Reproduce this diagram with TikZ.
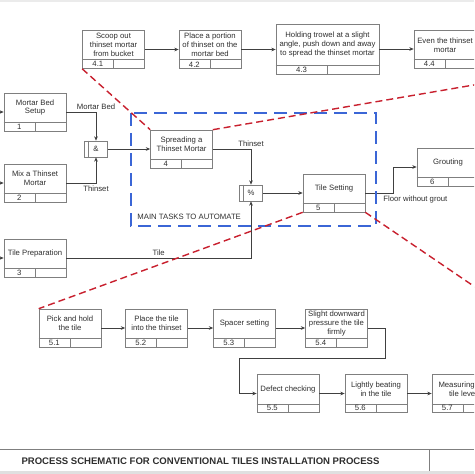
\documentclass[tikz,border=0pt]{standalone}
\usepackage{fontspec}
\setmainfont{Liberation Sans}
\usepackage{tikz}
\usetikzlibrary{arrows.meta,calc}
\definecolor{boxgray}{HTML}{7F7F7F}
\definecolor{textgray}{HTML}{2E2E2E}
\definecolor{zoomred}{HTML}{C8202E}
\definecolor{autoblue}{HTML}{3B66D6}
\tikzset{
  uob/.style={draw=boxgray, line width=0.9pt, minimum width=31mm, minimum height=19mm, inner sep=0pt},
  uobtext/.style={align=center, inner sep=0pt},
  uobnum/.style={inner sep=0pt},
  junc/.style={draw=boxgray, line width=0.9pt, minimum width=11.5mm, minimum height=8mm, inner sep=0pt},
  flow/.style={->, draw=black!75, line width=0.8pt},
  zoomline/.style={draw=zoomred, line width=2pt, dash pattern=on 3.5mm off 2mm},
  autoframe/.style={draw=autoblue, line width=3pt, dash pattern=on 6.5mm off 3.5mm},
}
% unit of behaviour box: name, centre, text, number
\newcommand{\uob}[5][]{%
  \node[uob,#1] (#2) at (#3) {};
  \node[uobtext] (#2-t) at ($(#2.center)+(0mm,2.25mm)$) {#4};
  \draw[draw=boxgray, line width=0.9pt] ($(#2.south west)+(0mm,4.5mm)$) -- ($(#2.south east)+(0mm,4.5mm)$);
  \draw[draw=boxgray, line width=0.9pt] (#2.south) -- ($(#2.south)+(0mm,4.5mm)$);
  \node[uobnum] (#2-n) at ($(#2.south west)!0.25!(#2.south east)+(0mm,2.25mm)$) {#5};
}

\begin{document}
\begin{tikzpicture}[x=0.5mm, y=-0.5mm, >={Stealth[length=2.2mm, width=1.8mm]}, font=\fontsize{11}{12.5}\selectfont, text=textgray]
    \useasboundingbox (0,0) rectangle (474,474);
    \clip (0,0) rectangle (474,474);
    \fill[black!8] (0,0) rectangle (474,2.5);

    % sub tasks of 4
    \uob{b41}{113.5,49.5}{Scoop out\\thinset mortar\\from bucket}{4.1}
    \uob{b42}{210,49.5}{Place a portion\\of thinset on the\\mortar bed}{4.2}
    \uob[minimum width=51.5mm, minimum height=25mm]{b43}{327.5,49}{Holding trowel at a slight\\angle, push down and away\\to spread the thinset mortar}{4.3}
    \uob{b44}{445,49.5}{Even the thinset\\mortar}{4.4}

    % main process
    \uob{b1}{35,112}{Mortar Bed\\Setup}{1}
    \uob{b2}{35,183}{Mix a Thinset\\Mortar}{2}
    \uob{b3}{35,258}{Tile Preparation}{3}
    \uob{b4}{181.5,149}{Spreading a\\Thinset Mortar}{4}
    \uob{b5}{334,193}{Tile Setting}{5}
    \uob{b6}{448,167}{Grouting}{6}

    \node[junc] (and) at (96,149) {\&};
    \draw[draw=boxgray, line width=0.9pt] ($(and.north west)+(2mm,0mm)$) -- ($(and.south west)+(2mm,0mm)$);
    \node[junc] (pct) at (251,193) {\%};
    \draw[draw=boxgray, line width=0.9pt] ($(pct.north west)+(2mm,0mm)$) -- ($(pct.south west)+(2mm,0mm)$);

    % sub tasks of 5
    \uob{b51}{70,328}{Pick and hold\\the tile}{5.1}
    \uob{b52}{156.5,328}{Place the tile\\into the thinset}{5.2}
    \uob{b53}{244.5,328}{Spacer setting}{5.3}
    \uob{b54}{336.5,328}{Slight downward\\pressure the tile\\firmly}{5.4}
    \uob{b55}{288,393.5}{Defect checking}{5.5}
    \uob{b56}{376,393.5}{Lightly beating\\in the tile}{5.6}
    \uob{b57}{463,393.5}{Measuring the\\tile level}{5.7}

    \coordinate (in1) at (-10,112);
    \coordinate (in2) at (-10,183);
    \coordinate (in3) at (-10,258);
    \draw[flow] (in1) -- (b1);
    \draw[flow] (in2) -- (b2);
    \draw[flow] (in3) -- (b3);

    \draw[flow] (b41) -- (b42);
    \draw[flow] (b42) -- (b42 -| b43.west);
    \draw[flow] (b43) -- (b43 -| b44.west);

    \draw[flow] (b1.east) -| node[above, pos=0.5] {Mortar Bed} (and.north);
    \draw[flow] (b2.east) -| node[below, pos=0.5] {Thinset} (and.south);
    \draw[flow] (and) -- (b4);
    \draw[flow] (b4.east) -| node[above, pos=0.5] {Thinset} (pct.north);
    \draw[flow] (b3.east) -| node[above, pos=0.25] {Tile} (pct.south);
    \draw[flow] (pct) -- (b5);
    \draw[flow] (b5.east) -- node[pos=0.55, anchor=north west] {Floor without grout} ++(28,0) |- (b6.west);

    \draw[flow] (b51) -- (b52);
    \draw[flow] (b52) -- (b53);
    \draw[flow] (b53) -- (b54);
    \draw[flow] (b54.east) -| ++(17,30) -| ($(b55.west)+(-8.5mm,0mm)$) -- (b55.west);
    \draw[flow] (b55) -- (b56);
    \draw[flow] (b56) -- (b57);

    % tasks to automate
    \draw[autoframe] (131,113) rectangle (376,226);
    \node[anchor=west] (auto) at (135,217) {MAIN TASKS TO AUTOMATE};

    % zoom lines
    \coordinate (z44) at (500,80.5);
    \coordinate (z57) at (500,304);
    \draw[zoomline] (b41.south west) -- (b4.north west);
    \draw[zoomline] (b4.north east) -- (z44);
    \draw[zoomline] (b5.south west) -- (b51.north west);
    \draw[zoomline] (b5.south east) -- (z57);

    % title bar
    \draw[draw=boxgray, line width=0.9pt] (0,449) -- (474,449);
    \draw[draw=boxgray, line width=0.9pt] (429,449) -- (429,474);
    \fill[black!12] (0,471) rectangle (474,474);
    \node[font=\bfseries\fontsize{13.6}{15}\selectfont] (title) at (200.5,461) {PROCESS SCHEMATIC FOR CONVENTIONAL TILES INSTALLATION PROCESS};
\end{tikzpicture}
\end{document}
